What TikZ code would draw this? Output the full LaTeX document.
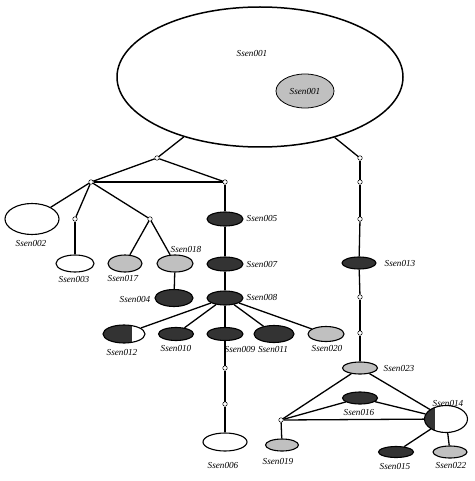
\documentclass[tikz,border=0pt]{standalone}
\usepackage{fontspec}
\setmainfont{Liberation Serif}
\usetikzlibrary{shapes.geometric}
\definecolor{darkf}{HTML}{333333}
\definecolor{lightf}{HTML}{C0C0C0}
\tikzset{
  hap/.style={ellipse, draw=black, line width=1.1pt, inner sep=0pt},
  dk/.style={hap, fill=darkf},
  lt/.style={hap, fill=lightf},
  wt/.style={hap, fill=white},
  junc/.style={circle, draw=black, fill=white, line width=0.5pt, inner sep=0pt, minimum size=4.5pt},
  lbl/.style={font=\fontsize{9.2}{10}\selectfont\itshape, inner sep=0pt},
  lnk/.style={line width=1.3pt},
}
\begin{document}
\begin{tikzpicture}[x=1pt,y=-1pt]
\path[use as bounding box] (0,0) rectangle (474,481);
% big ellipse
\node[hap, fill=white, line width=1.5pt, minimum width=286pt, minimum height=140pt] (big) at (260,77) {};
\node[lbl] (lab001a) at (252,53) {Ssen001};
\node[lt, line width=0.8pt, minimum width=58pt, minimum height=34pt] (s001) at (305,91) {};
\node[lbl] (lab001b) at (305,91) {Ssen001};
% junctions
\node[junc] (j1) at (157,158) {};
\node[junc] (j2) at (91,182) {};
\node[junc] (j3) at (225,182) {};
\node[junc] (j4) at (75,219) {};
\node[junc] (j5) at (150,219) {};
\node[junc] (j6) at (225,368) {};
\node[junc] (j7) at (225,404) {};
\node[junc] (r1) at (360,158) {};
\node[junc] (r2) at (360,182) {};
\node[junc] (r3) at (360,219) {};
\node[junc] (r4) at (360,297) {};
\node[junc] (r5) at (360,333) {};
\node[junc] (j8) at (281,420) {};
% haplotypes
\node[wt, minimum width=54pt, minimum height=31pt] (s002) at (32,219) {};
\node[wt, minimum width=38pt, minimum height=17pt] (s003) at (75,263.5) {};
\node[lt, minimum width=34pt, minimum height=17pt] (s017) at (125,263.5) {};
\node[lt, minimum width=36pt, minimum height=17pt] (s018) at (175,263.5) {};
\node[dk, minimum width=38pt, minimum height=17pt] (s004) at (174,298) {};
\node[dk, minimum width=36pt, minimum height=14pt] (s005) at (225,219) {};
\node[dk, minimum width=36pt, minimum height=14pt] (s007) at (225,264) {};
\node[dk, minimum width=36pt, minimum height=14pt] (s008) at (225,298) {};
\node[wt, minimum width=42pt, minimum height=18pt,
  path picture={\fill[darkf] (path picture bounding box.north west) rectangle ([xshift=29pt]path picture bounding box.south west);}] (s012) at (124,334) {};
\node[dk, minimum width=35pt, minimum height=13pt] (s010) at (176,334) {};
\node[dk, minimum width=36pt, minimum height=13pt] (s009) at (225,334) {};
\node[dk, minimum width=40pt, minimum height=17pt] (s011) at (274,334) {};
\node[lt, minimum width=36pt, minimum height=15pt] (s020) at (326,334) {};
\node[wt, minimum width=44pt, minimum height=18pt] (s006) at (225,442) {};
\node[dk, minimum width=34pt, minimum height=12pt] (s013) at (359,263) {};
\node[lt, minimum width=35pt, minimum height=12pt] (s023) at (360,368) {};
\node[dk, minimum width=35pt, minimum height=12pt] (s016) at (360,398) {};
\node[wt, minimum width=43pt, minimum height=27pt,
  path picture={\fill[darkf] (path picture bounding box.north west) rectangle ([xshift=10pt]path picture bounding box.south west);}] (s014) at (446,419) {};
\node[lt, minimum width=33pt, minimum height=12pt] (s019) at (282,445) {};
\node[dk, minimum width=35pt, minimum height=11pt] (s015) at (396,452) {};
\node[lt, minimum width=34pt, minimum height=12pt] (s022) at (450,452) {};
% links
\draw[lnk] (big) -- (j1);
\draw[lnk] (j1) -- (j2);
\draw[lnk] (j1) -- (j3);
\draw[lnk] (j2) -- (j3);
\draw[lnk] (j2) -- (s002);
\draw[lnk] (j2) -- (j4);
\draw[lnk] (j4) -- (s003);
\draw[lnk] (j2) -- (j5);
\draw[lnk] (j5) -- (s017);
\draw[lnk] (j5) -- (s018);
\draw[lnk] (s018) -- (s004);
\draw[lnk] (j3) -- (s005);
\draw[lnk] (s005) -- (s007);
\draw[lnk] (s007) -- (s008);
\draw[lnk] (s008) -- (s012);
\draw[lnk] (s008) -- (s010);
\draw[lnk] (s008) -- (s009);
\draw[lnk] (s008) -- (s011);
\draw[lnk] (s008) -- (s020);
\draw[lnk] (s009) -- (j6);
\draw[lnk] (j6) -- (j7);
\draw[lnk] (j7) -- (s006);
\draw[lnk] (big) -- (r1);
\draw[lnk] (r1) -- (r2);
\draw[lnk] (r2) -- (r3);
\draw[lnk] (r3) -- (s013);
\draw[lnk] (s013) -- (r4);
\draw[lnk] (r4) -- (r5);
\draw[lnk] (r5) -- (s023);
\draw[lnk] (s023) -- (j8);
\draw[lnk] (s023) -- (s014);
\draw[lnk] (s016) -- (j8);
\draw[lnk] (s016) -- (s014);
\draw[lnk] (j8) -- (s014);
\draw[lnk] (j8) -- (s019);
\draw[lnk] (s014) -- (s015);
\draw[lnk] (s014) -- (s022);
% labels
\node[lbl] (lab002) at (31,243) {Ssen002};
\node[lbl] (lab003) at (74,279) {Ssen003};
\node[lbl] (lab017) at (123,278) {Ssen017};
\node[lbl] (lab018) at (186,249) {Ssen018};
\node[lbl] (lab004) at (135,299) {Ssen004};
\node[lbl] (lab005) at (262,218) {Ssen005};
\node[lbl] (lab007) at (262,264) {Ssen007};
\node[lbl] (lab008) at (262,297) {Ssen008};
\node[lbl] (lab012) at (122,352) {Ssen012};
\node[lbl] (lab010) at (176,348) {Ssen010};
\node[lbl] (lab009) at (240,349) {Ssen009};
\node[lbl] (lab011) at (273,349) {Ssen011};
\node[lbl] (lab020) at (327,348) {Ssen020};
\node[lbl] (lab006) at (223,465) {Ssen006};
\node[lbl] (lab013) at (400,263) {Ssen013};
\node[lbl] (lab023) at (399,368) {Ssen023};
\node[lbl] (lab016) at (359,412) {Ssen016};
\node[lbl] (lab014) at (448,403) {Ssen014};
\node[lbl] (lab019) at (278,461) {Ssen019};
\node[lbl] (lab015) at (395,466) {Ssen015};
\node[lbl] (lab022) at (451,465) {Ssen022};
\end{tikzpicture}
\end{document}
